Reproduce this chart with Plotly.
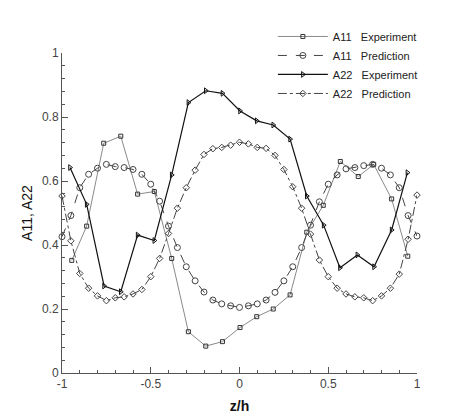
import plotly.graph_objects as go

# A11 experiment
a11_exp_x = [-0.945, -0.861, -0.765, -0.669, -0.574, -0.480, -0.382, -0.288, -0.190, -0.096,
             0.003, 0.097, 0.190, 0.285, 0.379, 0.472, 0.568, 0.669, 0.756, 0.857, 0.948]
a11_exp_y = [0.352, 0.459, 0.718, 0.740, 0.559, 0.567, 0.358, 0.129, 0.084, 0.098,
             0.142, 0.176, 0.200, 0.244, 0.440, 0.524, 0.661, 0.614, 0.652, 0.544, 0.365]

# A11 prediction
pred_x = [-1.0, -0.95, -0.9, -0.85, -0.8, -0.75, -0.7, -0.65, -0.6, -0.55, -0.5,
          -0.45, -0.4, -0.35, -0.3, -0.25, -0.2, -0.15, -0.1, -0.05, 0.0,
          0.05, 0.1, 0.15, 0.2, 0.25, 0.3, 0.35, 0.4, 0.45, 0.5,
          0.55, 0.6, 0.65, 0.7, 0.75, 0.8, 0.85, 0.9, 0.95, 1.0]
a11_pred_y = [0.426, 0.492, 0.579, 0.621, 0.640, 0.652, 0.645, 0.642, 0.636, 0.621, 0.590,
              0.537, 0.459, 0.392, 0.332, 0.288, 0.253, 0.228, 0.216, 0.210, 0.205,
              0.210, 0.216, 0.228, 0.252, 0.288, 0.332, 0.392, 0.462, 0.535, 0.590,
              0.619, 0.638, 0.642, 0.648, 0.652, 0.640, 0.619, 0.579, 0.492, 0.428]

# A22 experiment
a22_exp_x = [-0.955, -0.861, -0.763, -0.669, -0.574, -0.480, -0.382, -0.288, -0.190, -0.096,
             0.003, 0.097, 0.190, 0.285, 0.379, 0.474, 0.566, 0.664, 0.758, 0.857, 0.946]
a22_exp_y = [0.642, 0.527, 0.272, 0.254, 0.431, 0.414, 0.619, 0.845, 0.882, 0.874,
             0.819, 0.788, 0.775, 0.731, 0.553, 0.462, 0.329, 0.369, 0.332, 0.447, 0.626]

# A22 prediction
a22_pred_y = [0.553, 0.413, 0.311, 0.265, 0.241, 0.226, 0.235, 0.238, 0.247, 0.261, 0.301,
              0.358, 0.436, 0.515, 0.579, 0.634, 0.683, 0.701, 0.705, 0.712, 0.721,
              0.716, 0.705, 0.702, 0.680, 0.636, 0.582, 0.515, 0.434, 0.353, 0.301,
              0.265, 0.247, 0.238, 0.235, 0.226, 0.241, 0.265, 0.309, 0.418, 0.556]

x_ticks = [-1, -0.5, 0, 0.5, 1]
x_tick_labels = ["-1", "-0.5", "0", "0.5", "1"]
y_ticks = [0, 0.2, 0.4, 0.6, 0.8, 1]
y_tick_labels = ["0", "0.2", "0.4", "0.6", "0.8", "1"]

FONT = "Arial, Liberation Sans, sans-serif"
sp = "\u00a0\u00a0\u00a0"
fig = go.Figure()
fig.add_trace(go.Scatter(
    x=a11_exp_x, y=a11_exp_y, mode="lines+markers", name="A11" + sp + "Experiment",
    line=dict(color="#8a8a8a", width=1), cliponaxis=False,
    marker=dict(symbol="square-open", size=4, color="#333", line=dict(width=1))))
fig.add_trace(go.Scatter(
    x=pred_x, y=a11_pred_y, mode="lines+markers", name="A11" + sp + "Prediction",
    line=dict(color="#444", width=1, dash="dash"), cliponaxis=False,
    marker=dict(symbol="circle-open", size=6, color="#444", line=dict(width=1))))
fig.add_trace(go.Scatter(
    x=a22_exp_x, y=a22_exp_y, mode="lines+markers", name="A22" + sp + "Experiment",
    line=dict(color="#111", width=1.2), cliponaxis=False,
    marker=dict(symbol="triangle-right-open", size=5, color="#111", line=dict(width=1))))
fig.add_trace(go.Scatter(
    x=pred_x, y=a22_pred_y, mode="lines+markers", name="A22" + sp + "Prediction",
    line=dict(color="#444", width=1, dash="dashdot"), cliponaxis=False,
    marker=dict(symbol="diamond-open", size=5, color="#444", line=dict(width=1))))

axis_common = dict(
    showline=True, linecolor="#555", linewidth=1, mirror=False,
    showgrid=False, zeroline=False, ticks="inside", ticklen=6, tickcolor="#555",
    tickfont=dict(family=FONT, size=12, color="#444"),
)
fig.update_layout(
    width=466, height=412,
    margin=dict(l=54, r=57, t=45, b=47, autoexpand=False),
    paper_bgcolor="white", plot_bgcolor="white",
    showlegend=True,
    legend=dict(x=0.594, y=1.097, xanchor="left", yanchor="top",
                font=dict(family=FONT, size=11, color="#222"),
                itemwidth=50, tracegroupgap=0, bgcolor="rgba(0,0,0,0)"),
    xaxis=dict(range=[-1, 1], tickvals=x_ticks, ticktext=x_tick_labels,
               minor=dict(dtick=0.1, ticklen=3, ticks="inside", tickcolor="#555"),
               title=dict(text="<b>z/h</b>", standoff=10,
                          font=dict(family=FONT, size=14, color="#111")),
               **axis_common),
    yaxis=dict(range=[0, 1], tickvals=y_ticks, ticktext=y_tick_labels,
               minor=dict(dtick=0.04, ticklen=3, ticks="inside", tickcolor="#555"),
               title=dict(text="A11, A22", standoff=6,
                          font=dict(family=FONT, size=14, color="#111")),
               **axis_common),
)
fig.write_html("out.html")
